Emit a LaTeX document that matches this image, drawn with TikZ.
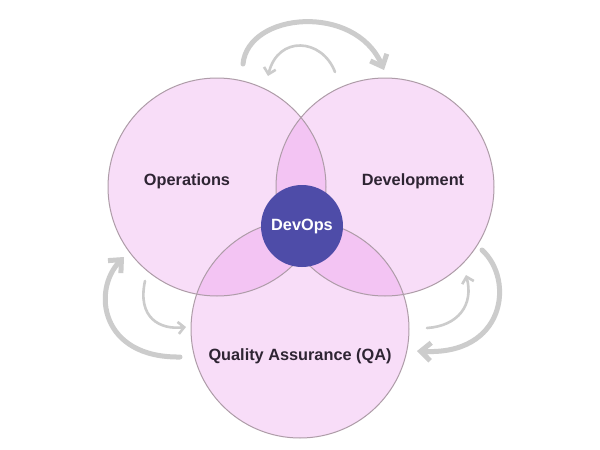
\documentclass[tikz,border=0pt]{standalone}
\usepackage{fontspec}
\setmainfont{Liberation Sans}
\usetikzlibrary{arrows.meta}
\definecolor{pinkL}{HTML}{F8DDF8}
\definecolor{pinkD}{HTML}{F3C4F3}
\definecolor{edge}{HTML}{AE9CA8}
\definecolor{indigo}{HTML}{4E4CA8}
\definecolor{txt}{HTML}{2E2433}
\definecolor{arr}{HTML}{CCCCCC}
\tikzset{
  lbl/.style={font=\bfseries\fontsize{16.3}{19}\selectfont, text=txt},
  bigarr/.style={draw=arr, line width=5pt, line cap=round, -{Straight Barb[length=10pt,width=18pt,line width=5pt]}},
  smallarr/.style={draw=arr, line width=2.6pt, line cap=round, -{Straight Barb[length=6pt,width=12pt,line width=2.6pt]}},
}
\begin{document}
\begin{tikzpicture}[x=1pt,y=-1pt]
\useasboundingbox (0,0) rectangle (600,450);
\fill[white] (0,0) rectangle (600,450);
\coordinate (ops) at (217,187);
\coordinate (dev) at (385,187);
\coordinate (qa) at (300,329);
\def\R{109}
% base fills
\fill[pinkL] (ops) circle (\R);
\fill[pinkL] (dev) circle (\R);
\fill[pinkL] (qa) circle (\R);
% overlaps
\begin{scope}\clip (ops) circle (\R); \fill[pinkD] (dev) circle (\R); \fill[pinkD] (qa) circle (\R);\end{scope}
\begin{scope}\clip (dev) circle (\R); \fill[pinkD] (qa) circle (\R);\end{scope}
% outlines
\draw[edge, line width=1pt] (ops) circle (\R);
\draw[edge, line width=1pt] (dev) circle (\R);
\draw[edge, line width=1pt] (qa) circle (\R);
% center
\node[circle, fill=indigo, minimum size=82pt, inner sep=0pt, text=white, font=\bfseries\fontsize{16.3}{19}\selectfont] (devops) at (302,226) {DevOps};
\node[lbl] (opsl) at (187,181) {Operations};
\node[lbl] (devl) at (413,181) {Development};
\node[lbl] (qal) at (300,356) {Quality Assurance (QA)};
% arrows
\coordinate (t1) at (243,64);
\coordinate (t2) at (384,70);
\coordinate (t3) at (335,72);
\coordinate (t4) at (268,76);
\draw[bigarr] (t1) .. controls (248,12) and (355,3) .. (t2);
\draw[smallarr] (t3) .. controls (322,38) and (278,35) .. (t4);
\coordinate (l1) at (180,357);
\coordinate (l2) at (124,257);
\coordinate (l3) at (145,281);
\coordinate (l4) at (186,327);
\draw[bigarr] (l1) .. controls (100,358) and (92,290) .. (l2);
\draw[smallarr] (l3) .. controls (137,318) and (160,330) .. (l4);
\coordinate (r1) at (482,250);
\coordinate (r2) at (417,351);
\coordinate (r3) at (427,328);
\coordinate (r4) at (466,275);
\draw[bigarr] (r1) .. controls (515,280) and (505,356) .. (r2);
\draw[smallarr] (r3) .. controls (458,326) and (474,305) .. (r4);
\end{tikzpicture}
\end{document}
